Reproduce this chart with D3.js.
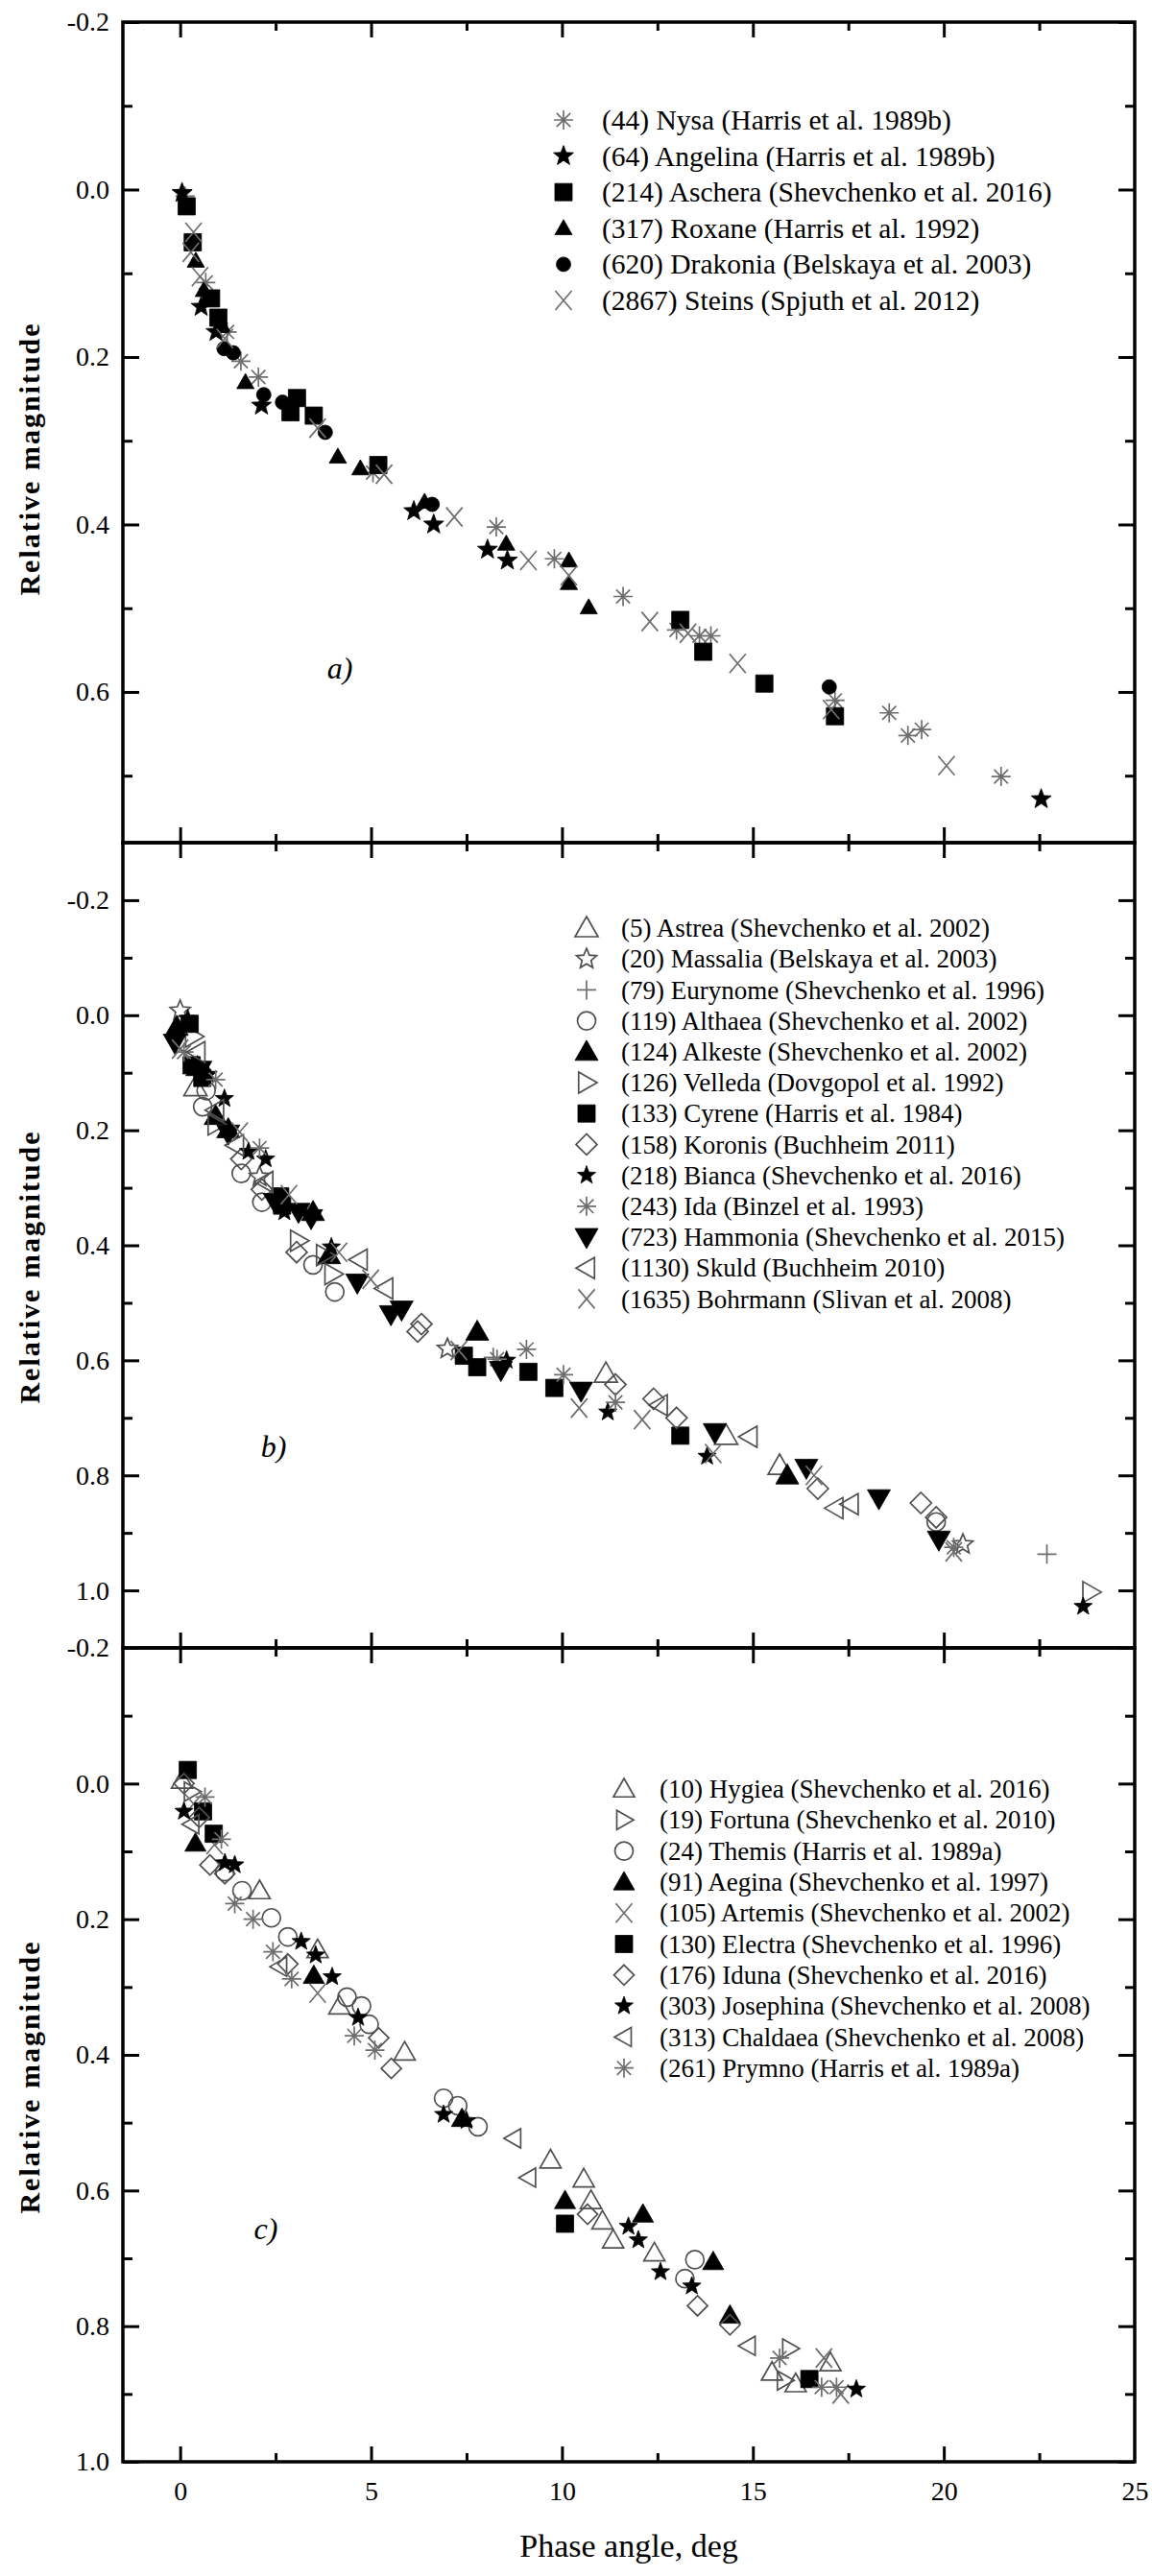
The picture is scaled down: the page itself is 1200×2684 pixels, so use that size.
<!DOCTYPE html>
<html>
<head>
<meta charset="utf-8">
<title>phase curves</title>
<script src="https://d3js.org/d3.v7.min.js"></script>
<style>
  body { margin:0; background:#fff; }
  svg, svg text { font-family:"Liberation Serif", "Times New Roman", Times, serif; }
  .axis path { display:none; }
  .axis line { stroke:#000; stroke-width:3; }
  .axis text { font-size:28px; fill:#000; }
  .frame { fill:none; stroke:#000; stroke-width:3.5; }
  .legend text { fill:#000; }
</style>
</head>
<body>
<script>

// ---- axes ----
var xMajor = [0, 5, 10, 15, 20, 25];
var xMinor = [2.5, 7.5, 12.5, 17.5, 22.5];
var yMajorA = [-0.2, 0, 0.2, 0.4, 0.6];
var yMinorA = [-0.1, 0.1, 0.3, 0.5, 0.7];
var yMajorBC = [-0.2, 0, 0.2, 0.4, 0.6, 0.8, 1.0];
var yMinorBC = [-0.1, 0.1, 0.3, 0.5, 0.7, 0.9];

// ---- panel a ----  [phase angle, relative magnitude]
var nysa = [[0.13,0.008],[0.67,0.111],[1.23,0.17],[1.59,0.205],[2.05,0.224],[5.05,0.338],[8.28,0.403],[9.8,0.441],
  [11.6,0.486],[13.0,0.526],[13.6,0.533],[13.9,0.533],[17.15,0.61],[18.57,0.625],[19.06,0.652],[19.42,0.645],[21.5,0.701]];
var angelina = [[0.05,0.004],[0.55,0.14],[0.94,0.17],[2.13,0.258],[6.12,0.384],[6.64,0.4],[8.05,0.43],[8.57,0.443],[22.55,0.728]];
var aschera = [[0.17,0.02],[0.33,0.063],[0.81,0.13],[1.0,0.153],[3.06,0.249],[2.89,0.266],[3.5,0.27],[5.19,0.329],
  [13.1,0.514],[13.7,0.552],[15.3,0.59],[17.15,0.629]];
var roxane = [[0.41,0.085],[0.62,0.12],[1.1,0.163],[1.71,0.23],[4.13,0.319],[4.72,0.333],[6.4,0.373],[8.54,0.423],
  [10.18,0.443],[10.18,0.47],[10.7,0.499]];
var drakonia = [[1.15,0.19],[1.39,0.195],[2.19,0.245],[2.68,0.254],[3.8,0.29],[6.6,0.376],[17.0,0.594]];
var steins = [[0.35,0.051],[0.28,0.075],[0.52,0.104],[1.17,0.178],[3.6,0.285],[5.34,0.34],[7.18,0.391],[9.12,0.443],
  [10.18,0.461],[12.3,0.516],[13.3,0.53],[14.6,0.566],[17.05,0.621],[20.07,0.688]];
var labelsA = ["(44) Nysa (Harris et al. 1989b)", "(64) Angelina (Harris et al. 1989b)", "(214) Aschera (Shevchenko et al. 2016)",
  "(317) Roxane (Harris et al. 1992)", "(620) Drakonia (Belskaya et al. 2003)", "(2867) Steins (Spjuth et al. 2012)"];

// ---- panel b ----
var astrea = [[0.4,0.125],[11.15,0.623],[14.3,0.731],[15.7,0.783]];
var massalia = [[0.0,-0.008],[2.08,0.281],[7.0,0.58],[20.5,0.92]];
var eurynome = [[8.2,0.595],[22.7,0.937]];
var althaea = [[0.68,0.131],[0.59,0.159],[1.6,0.275],[2.14,0.325],[3.48,0.434],[4.05,0.481],[19.8,0.881]];
var alkeste = [[-0.09,0.02],[0.45,0.09],[0.93,0.175],[1.26,0.198],[3.48,0.342],[3.9,0.417],[7.78,0.55],[15.9,0.8]];
var velleda = [[0.35,0.037],[0.94,0.19],[3.1,0.392],[3.78,0.417],[4.0,0.45],[23.85,1.003]];
var cyrene = [[0.25,0.015],[0.3,0.087],[0.58,0.109],[2.62,0.315],[2.67,0.331],[7.43,0.592],[7.78,0.612],[9.12,0.62],
  [9.8,0.648],[13.1,0.731]];
var koronis = [[1.6,0.25],[2.14,0.303],[3.05,0.412],[6.22,0.55],[6.32,0.537],[11.4,0.642],[12.4,0.667],[13.0,0.7],
  [16.7,0.823],[19.4,0.848],[19.8,0.873]];
var bianca = [[0.2,0.006],[0.73,0.103],[1.16,0.145],[1.79,0.237],[2.24,0.25],[2.73,0.342],[3.96,0.403],[8.55,0.6],
  [11.2,0.69],[13.8,0.767],[23.65,1.028]];
var ida = [[0.1,0.064],[0.93,0.112],[2.08,0.231],[8.3,0.598],[9.07,0.581],[10.04,0.625],[11.4,0.673],[20.26,0.925]];
var hammonia = [[-0.14,0.048],[0.53,0.095],[1.26,0.206],[2.48,0.325],[3.1,0.342],[3.43,0.353],[4.64,0.465],[5.52,0.52],
  [5.8,0.512],[8.4,0.617],[10.5,0.653],[14.0,0.725],[16.4,0.787],[18.3,0.84],[19.87,0.912]];
var skuld = [[0.44,0.064],[0.93,0.165],[1.45,0.226],[2.22,0.29],[4.69,0.425],[5.36,0.475],[12.55,0.678],[14.9,0.733],
  [17.15,0.857],[17.55,0.85]];
var bohrmann = [[0.0,0.059],[1.56,0.203],[2.85,0.312],[4.16,0.412],[4.99,0.459],[7.3,0.583],[10.45,0.683],[12.1,0.703],
  [13.96,0.762],[16.6,0.8],[20.26,0.933]];
var labelsB = ["(5) Astrea (Shevchenko et al. 2002)", "(20) Massalia (Belskaya et al. 2003)", "(79) Eurynome (Shevchenko et al. 1996)",
  "(119) Althaea (Shevchenko et al. 2002)", "(124) Alkeste (Shevchenko et al. 2002)", "(126) Velleda (Dovgopol et al. 1992)",
  "(133) Cyrene (Harris et al. 1984)", "(158) Koronis (Buchheim 2011)", "(218) Bianca (Shevchenko et al. 2016)",
  "(243) Ida (Binzel et al. 1993)", "(723) Hammonia (Shevchenko et al. 2015)", "(1130) Skuld (Buchheim 2010)",
  "(1635) Bohrmann (Slivan et al. 2008)"];

// ---- panel c ----
var hygiea = [[0.05,-0.005],[2.08,0.158],[3.6,0.245],[4.17,0.328],[5.88,0.396],[9.7,0.555],[10.57,0.583],[10.76,0.615],
  [11.06,0.645],[11.34,0.673],[12.42,0.692],[15.5,0.868],[16.12,0.885],[17.03,0.854]];
var fortuna = [[0.3,0.012],[15.97,0.833],[15.83,0.88]];
var themis = [[1.17,0.13],[1.62,0.158],[2.39,0.198],[2.82,0.226],[4.37,0.315],[4.75,0.328],[4.95,0.355],[6.9,0.464],
  [7.27,0.475],[7.8,0.506],[13.48,0.702],[13.22,0.73]];
var aegina = [[0.4,0.088],[3.5,0.283],[7.38,0.494],[10.08,0.615],[12.12,0.635],[13.96,0.705],[14.4,0.784]];
var artemis = [[0.35,0.03],[0.9,0.09],[3.6,0.309],[16.86,0.847],[17.3,0.9]];
var electra = [[0.2,-0.02],[0.6,0.041],[0.88,0.074],[10.08,0.649],[16.48,0.878]];
var iduna = [[0.1,0.0],[0.5,0.05],[0.78,0.12],[1.17,0.133],[2.82,0.266],[5.2,0.375],[5.53,0.42],[10.67,0.635],
  [13.55,0.77],[14.4,0.798]];
var josephina = [[0.1,0.041],[1.17,0.117],[1.43,0.12],[3.17,0.233],[3.55,0.253],[3.98,0.285],[4.66,0.345],[6.9,0.488],
  [7.5,0.497],[11.74,0.653],[12.0,0.673],[12.58,0.72],[13.4,0.741],[17.71,0.893]];
var chaldaea = [[0.3,0.06],[2.6,0.27],[8.73,0.523],[9.12,0.581],[14.87,0.829]];
var prymno = [[0.65,0.02],[1.08,0.082],[1.43,0.177],[1.91,0.2],[2.43,0.248],[2.92,0.288],[4.56,0.372],[5.1,0.393],
  [15.7,0.847],[16.8,0.89],[17.19,0.89]];
var labelsC = ["(10) Hygiea (Shevchenko et al. 2016)", "(19) Fortuna (Shevchenko et al. 2010)", "(24) Themis (Harris et al. 1989a)",
  "(91) Aegina (Shevchenko et al. 1997)", "(105) Artemis (Shevchenko et al. 2002)", "(130) Electra (Shevchenko et al. 1996)",
  "(176) Iduna (Shevchenko et al. 2016)", "(303) Josephina (Shevchenko et al. 2008)", "(313) Chaldaea (Shevchenko et al. 2008)",
  "(261) Prymno (Harris et al. 1989a)"];


var W = 1200, H = 2684;
var left = 128, right = 1182;
var FONT = "Liberation Serif, Times New Roman, serif";

var x = d3.scaleLinear().domain([-1.5, 25]).range([left, right]);

var panels = [
  { top: 23, bottom: 878, dom: [-0.2, 0.78], major: yMajorA, minor: yMinorA, letter: "a)", lx: 354, ly: 707, ty: 478,
    legX: 587, legY: 125, legStep: 37.6, font: 29.5, gap: 40,
    series: [
      { d: nysa, s: "ast", r: 10 }, { d: angelina, s: "star", r: 11 }, { d: aschera, s: "sq", r: 9 },
      { d: roxane, s: "tri", r: 9 }, { d: drakonia, s: "dot", r: 7.5 }, { d: steins, s: "x", r: 10 }],
    labels: labelsA },
  { top: 878, bottom: 1717, dom: [-0.3, 1.1], major: yMajorBC, minor: yMinorBC, letter: "b)", lx: 285, ly: 1518, ty: 1320,
    legX: 611, legY: 967, legStep: 32.2, font: 27, gap: 36,
    series: [
      { d: astrea, s: "triO", r: 12 }, { d: massalia, s: "starO", r: 11 }, { d: eurynome, s: "plus", r: 10 },
      { d: althaea, s: "dotO", r: 9.5 }, { d: alkeste, s: "tri", r: 12 }, { d: velleda, s: "triRO", r: 11 },
      { d: cyrene, s: "sq", r: 9 }, { d: koronis, s: "diaO", r: 11 }, { d: bianca, s: "star", r: 10 },
      { d: ida, s: "ast", r: 10 }, { d: hammonia, s: "triD", r: 12 }, { d: skuld, s: "triLO", r: 11 },
      { d: bohrmann, s: "x", r: 10 }],
    labels: labelsB },
  { top: 1717, bottom: 2565, dom: [-0.2, 1.0], major: yMajorBC, minor: yMinorBC, letter: "c)", lx: 277, ly: 2333, ty: 2164,
    legX: 650, legY: 1864, legStep: 32.3, font: 27, gap: 37,
    series: [
      { d: hygiea, s: "triO", r: 11 }, { d: fortuna, s: "triRO", r: 10 }, { d: themis, s: "dotO", r: 9.5 },
      { d: aegina, s: "tri", r: 11 }, { d: artemis, s: "x", r: 10 }, { d: electra, s: "sq", r: 9 },
      { d: iduna, s: "diaO", r: 10.5 }, { d: josephina, s: "star", r: 10 }, { d: chaldaea, s: "triLO", r: 10 },
      { d: prymno, s: "ast", r: 10 }],
    labels: labelsC }
];

function starPath(R, k) {
  var p = d3.path();
  for (var i = 0; i < 10; i++) {
    var a = -Math.PI / 2 + i * Math.PI / 5;
    var rr = (i % 2 === 0) ? R : R * k;
    if (i === 0) p.moveTo(rr * Math.cos(a), rr * Math.sin(a));
    else p.lineTo(rr * Math.cos(a), rr * Math.sin(a));
  }
  p.closePath();
  return p.toString();
}

function shapePath(s, r) {
  switch (s) {
    case "sq": return "M" + (-r) + "," + (-r) + "H" + r + "V" + r + "H" + (-r) + "Z";
    case "dot": case "dotO": return "M" + r + ",0A" + r + "," + r + " 0 1,1 " + (-r) + ",0A" + r + "," + r + " 0 1,1 " + r + ",0Z";
    case "tri": case "triO": return "M0," + (-r) + "L" + r + "," + (0.75 * r) + "L" + (-r) + "," + (0.75 * r) + "Z";
    case "triD": return "M0," + r + "L" + r + "," + (-0.75 * r) + "L" + (-r) + "," + (-0.75 * r) + "Z";
    case "triRO": return "M" + r + ",0L" + (-0.75 * r) + "," + (-r) + "L" + (-0.75 * r) + "," + r + "Z";
    case "triLO": return "M" + (-r) + ",0L" + (0.75 * r) + "," + (-r) + "L" + (0.75 * r) + "," + r + "Z";
    case "diaO": return "M0," + (-r) + "L" + r + ",0L0," + r + "L" + (-r) + ",0Z";
    case "star": return starPath(r, 0.42);
    case "starO": return starPath(r, 0.45);
    case "plus": return "M" + (-r) + ",0H" + r + "M0," + (-r) + "V" + r;
    case "x": var q = r * 0.85; return "M" + (-q) + "," + (-r) + "L" + q + "," + r + "M" + q + "," + (-r) + "L" + (-q) + "," + r;
    case "ast": var c = r * 0.72; return "M" + (-r) + ",0H" + r + "M0," + (-r) + "V" + r +
      "M" + (-c) + "," + (-c) + "L" + c + "," + c + "M" + c + "," + (-c) + "L" + (-c) + "," + c;
  }
}

function styleMark(sel, s) {
  if (s === "sq" || s === "dot" || s === "tri" || s === "triD" || s === "star") {
    sel.attr("fill", "#000").attr("stroke", "#000").attr("stroke-width", 0.8);
  } else if (s === "plus" || s === "x" || s === "ast") {
    sel.attr("fill", "none").attr("stroke", "#6e6e6e").attr("stroke-width", 1.7);
  } else {
    sel.attr("fill", "none").attr("stroke", "#505050").attr("stroke-width", 1.7);
  }
}

var svg = d3.select("body").append("svg").attr("width", W).attr("height", H)
  .attr("font-family", FONT);

var fmt = function(v) { return v.toFixed(1); };

panels.forEach(function(p, pi) {
  var y = d3.scaleLinear().domain(p.dom).range([p.top, p.bottom]);
  var g = svg.append("g");

  // y ticks, left (labelled) and right
  g.append("g").attr("class", "axis").attr("transform", "translate(" + left + ",0)")
    .call(d3.axisLeft(y).tickValues(p.major).tickSize(-17).tickPadding(14).tickFormat(fmt));
  g.append("g").attr("class", "axis").attr("transform", "translate(" + left + ",0)")
    .call(d3.axisLeft(y).tickValues(p.minor).tickSize(-10).tickFormat(""));
  g.append("g").attr("class", "axis").attr("transform", "translate(" + right + ",0)")
    .call(d3.axisRight(y).tickValues(p.major).tickSize(-17).tickFormat(""));
  g.append("g").attr("class", "axis").attr("transform", "translate(" + right + ",0)")
    .call(d3.axisRight(y).tickValues(p.minor).tickSize(-10).tickFormat(""));

  // x ticks, top and bottom of every panel
  g.append("g").attr("class", "axis").attr("transform", "translate(0," + p.top + ")")
    .call(d3.axisTop(x).tickValues(xMajor.slice(0, 5)).tickSize(-16).tickFormat(""));
  g.append("g").attr("class", "axis").attr("transform", "translate(0," + p.top + ")")
    .call(d3.axisTop(x).tickValues(xMinor).tickSize(-9).tickFormat(""));
  var bx = g.append("g").attr("class", "axis").attr("transform", "translate(0," + p.bottom + ")")
    .call(d3.axisBottom(x).tickValues(xMajor).tickSize(-16).tickPadding(20)
      .tickFormat(pi === 2 ? d3.format("d") : ""));
  bx.selectAll(".tick").filter(function(d) { return d === 25; }).select("line").remove();
  g.append("g").attr("class", "axis").attr("transform", "translate(0," + p.bottom + ")")
    .call(d3.axisBottom(x).tickValues(xMinor).tickSize(-9).tickFormat(""));

  g.selectAll(".axis text").attr("font-family", FONT);

  g.append("rect").attr("class", "frame")
    .attr("x", left).attr("y", p.top).attr("width", right - left).attr("height", p.bottom - p.top);

  // y title
  g.append("text")
    .attr("transform", "translate(41," + p.ty + ") rotate(-90)")
    .attr("text-anchor", "middle").attr("font-family", FONT)
    .attr("font-size", 30).attr("font-weight", "bold").attr("letter-spacing", 2)
    .text("Relative magnitude");

  // panel letter
  g.append("text").attr("x", p.lx).attr("y", p.ly).attr("text-anchor", "middle").attr("font-family", FONT)
    .attr("font-size", 32).attr("font-style", "italic").text(p.letter);

  // points
  p.series.forEach(function(s) {
    g.append("g").selectAll("path").data(s.d).enter().append("path")
      .attr("transform", function(d) { return "translate(" + x(d[0]) + "," + y(d[1]) + ")"; })
      .attr("d", shapePath(s.s, s.r))
      .call(styleMark, s.s);
  });

  // legend
  var lg = g.append("g").attr("class", "legend");
  p.series.forEach(function(s, i) {
    var cy = p.legY + i * p.legStep;
    lg.append("path").attr("transform", "translate(" + p.legX + "," + cy + ")")
      .attr("d", shapePath(s.s, s.r)).call(styleMark, s.s);
    lg.append("text").attr("x", p.legX + p.gap).attr("y", cy).attr("dy", "0.34em")
      .attr("font-family", FONT).attr("font-size", p.font).text(p.labels[i]);
  });
});

svg.append("text").attr("x", (left + right) / 2).attr("y", 2664).attr("text-anchor", "middle")
  .attr("font-family", FONT).attr("font-size", 34).text("Phase angle, deg");

</script>
</body>
</html>
